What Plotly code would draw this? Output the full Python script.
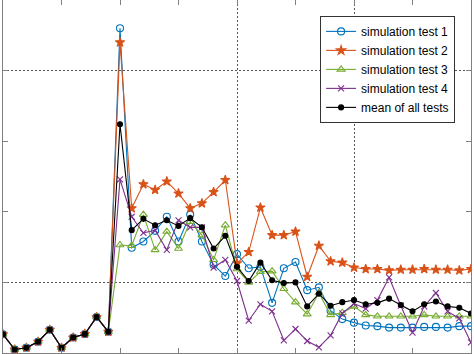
import plotly.graph_objects as go

x_vals = list(range(41))

start = [0.265, 0.05, 0.075, 0.16, 0.33, 0.075, 0.22, 0.27, 0.51, 0.30]

test1 = start + [4.60, 1.49, 1.58, 1.73, 1.93, 1.58, 1.96, 1.58, 1.25, 1.09,
                 1.40, 1.20, 1.22, 0.71, 1.20, 1.29, 0.89, 0.93, 0.60, 0.48,
                 0.43, 0.39, 0.38, 0.36, 0.36, 0.36, 0.37, 0.37, 0.36, 0.38, 0.38]
test2 = start + [4.40, 2.05, 2.39, 2.31, 2.43, 2.26, 2.05, 2.12, 2.28, 2.45,
                 1.27, 1.43, 2.06, 1.67, 1.67, 1.72, 1.08, 1.52, 1.30, 1.28,
                 1.21, 1.19, 1.19, 1.17, 1.18, 1.18, 1.19, 1.18, 1.18, 1.17, 1.19]
test3 = start + [1.53, 1.52, 1.96, 1.46, 1.72, 1.48, 1.86, 1.67, 1.32, 1.81,
                 1.19, 1.00, 1.15, 1.16, 0.91, 0.72, 0.55, 0.85, 0.54, 0.57,
                 0.66, 0.54, 0.52, 0.52, 0.52, 0.52, 0.54, 0.52, 0.52, 0.52, 0.52]
test4 = start + [2.46, 1.93, 1.70, 1.74, 1.46, 1.88, 1.78, 1.78, 1.21, 1.32,
                 1.02, 0.46, 0.69, 0.59, 0.18, 0.34, 0.17, 0.08, 0.25, 0.56,
                 0.70, 0.63, 0.75, 1.07, 0.67, 0.29, 0.66, 0.85, 0.59, 0.49, 0.15]
mean_all = start + [3.24, 1.74, 1.90, 1.81, 1.88, 1.80, 1.91, 1.78, 1.48, 1.66,
                    1.22, 1.02, 1.28, 1.03, 0.99, 1.00, 0.66, 0.84, 0.67, 0.72,
                    0.75, 0.69, 0.71, 0.77, 0.68, 0.59, 0.69, 0.73, 0.66, 0.64, 0.56]

names = ["simulation test 1", "simulation test 2", "simulation test 3",
         "simulation test 4", "mean of all tests"]
x_ticks = [0, 5, 10, 15, 20, 25, 30, 35, 40]
y_ticks = [0, 1, 2, 3, 4, 5]
x_grid = [20, 30]
y_grid = [1, 4]

series = [test1, test2, test3, test4, mean_all]
colors = ["#0072BD", "#D95319", "#77AC30", "#7E2F8E", "#000000"]
symbols = ["circle-open", "star", "triangle-up-open", "x-thin-open", "circle"]
sizes = [7, 7, 7, 6, 5]

fig = go.Figure()
for s, n, c, sym, sz in zip(series, names, colors, symbols, sizes):
    fig.add_trace(go.Scatter(
        x=x_vals, y=s, name=n, mode="lines+markers",
        line=dict(color=c, width=1.1),
        marker=dict(symbol=sym, size=sz, color=c, line=dict(color=c, width=1.1)),
    ))

axis_common = dict(
    showline=True, linecolor="#808080", linewidth=1, mirror="ticks",
    ticks="inside", ticklen=5, tickcolor="#808080", showticklabels=False,
    showgrid=True, gridcolor="#555555", gridwidth=1, griddash="2px,2px",
    zeroline=False,
)

fig.update_layout(
    width=474, height=354,
    margin=dict(l=3, r=3, t=0, b=1),
    paper_bgcolor="white", plot_bgcolor="white",
    xaxis=dict(range=[0, 40], tickvals=x_grid,
               minor=dict(tickvals=x_ticks, ticks="inside", ticklen=5,
                          tickcolor="#808080", showgrid=False),
               **axis_common),
    yaxis=dict(range=[0, 5], tickvals=y_grid,
               minor=dict(tickvals=y_ticks, ticks="inside", ticklen=5,
                          tickcolor="#808080", showgrid=False),
               **axis_common),
    legend=dict(x=0.966, y=0.955, xanchor="right", yanchor="top",
                bgcolor="white", bordercolor="#333333", borderwidth=1,
                font=dict(family="Liberation Sans, Arial", size=12, color="black"),
                tracegroupgap=0, itemwidth=30),
    showlegend=True,
)

fig.write_html("out.html")
